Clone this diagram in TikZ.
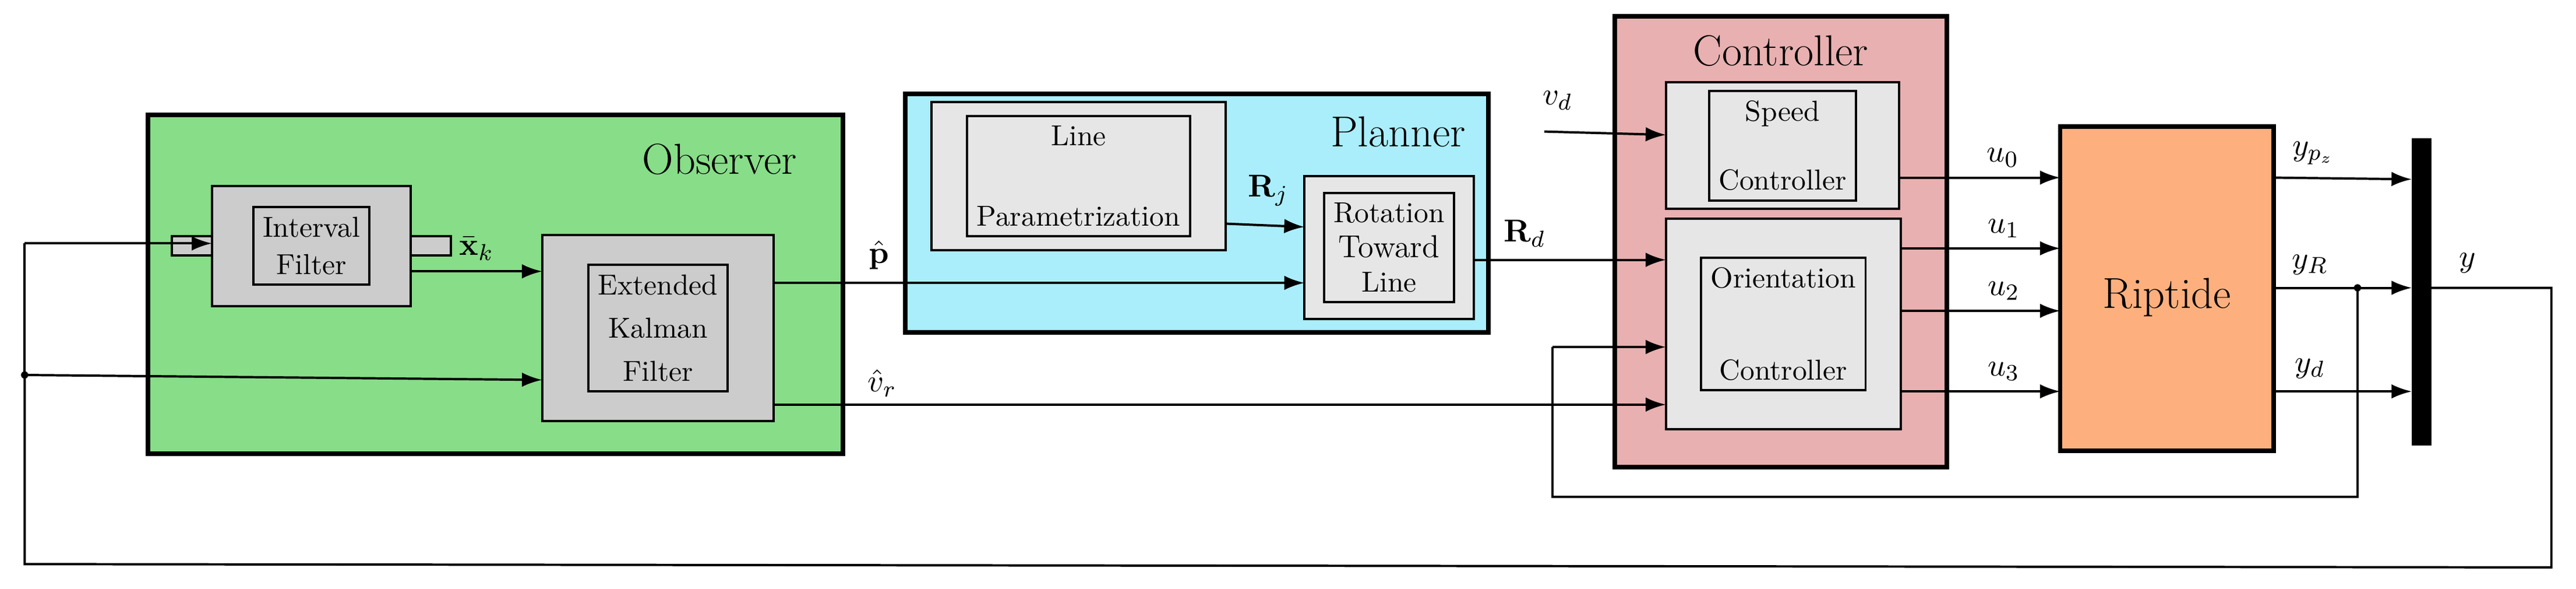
\documentclass[tikz,border=0pt]{standalone}
\usepackage{amsmath,bm}
\usetikzlibrary{arrows.meta}
\definecolor{obs}{HTML}{88DD88}
\definecolor{pla}{HTML}{AAEEFC}
\definecolor{con}{HTML}{E8B0B0}
\definecolor{rip}{HTML}{FDB07E}
\definecolor{g1}{HTML}{CCCCCC}
\definecolor{g2}{HTML}{E6E6E6}
\begin{document}
\begin{tikzpicture}[x=0.02cm,y=-0.02cm,
 grp/.style={draw,line width=1.6pt},
 blk/.style={draw,line width=0.8pt,align=center,font=\fontsize{10}{15}\selectfont},
 ar/.style={-{Latex[length=7pt,width=5pt]},line width=0.8pt},
 ln/.style={line width=0.8pt},
 lab/.style={font=\fontsize{11}{13}\selectfont},
 ttl/.style={font=\fontsize{15}{17}\selectfont}]
\useasboundingbox (0,0) rectangle (1568,358);
\fill[obs,draw=black,line width=1.6pt] (90,70) rectangle (513,276);
\node[ttl] (tobs) at (438,97) {Observer};
\fill[pla,draw=black,line width=1.6pt] (551,57) rectangle (906,202);
\node[ttl] (tpla) at (851,80) {Planner};
\fill[con,draw=black,line width=1.6pt] (983,10) rectangle (1185,284);
\node[ttl] (tcon) at (1084,31) {Controller};
\node[blk,fill=g1,minimum width=121\pgflinewidth] (if) at (189.5,149.5) {};
\path[blk,fill=g1,draw] (129,113) rectangle (250,186);
\node[blk] (ift) at (189.5,149.5) {Interval\\[-2pt]Filter};
\path[blk,fill=g1,draw] (330,143) rectangle (471,256);
\node[blk] (ekf) at (400.5,199.5) {Extended\\Kalman\\Filter};
\path[blk,fill=g2,draw] (567,62) rectangle (746,152);
\node[blk,font=\fontsize{10}{20}\selectfont] (lp) at (656.5,107) {Line\\[8pt]Parametrization};
\path[blk,fill=g2,draw] (794,107) rectangle (897,194);
\node[blk,font=\fontsize{10}{12}\selectfont] (rt) at (845.5,150.5) {Rotation\\{\fontsize{11}{13}\selectfont Toward}\\Line};
\path[blk,fill=g2,draw] (1014,50) rectangle (1156,127);
\node[blk,font=\fontsize{10}{20}\selectfont] (sc) at (1085,88.5) {Speed\\[4pt]Controller};
\path[blk,fill=g2,draw] (1014,133) rectangle (1157,261);
\node[blk,font=\fontsize{10}{20}\selectfont] (oc) at (1085.5,197) {Orientation\\[12pt]Controller};
\path[fill=rip,draw,line width=1.6pt] (1254,77) rectangle (1384,274);
\node[font=\fontsize{15}{17}\selectfont] (rip) at (1319,181) {Riptide};
\fill (1468,84) rectangle (1480,271);
% coordinates
\coordinate (dot) at (15,228);
\fill (dot) circle (2.2);
\coordinate (dot2) at (1435,175);
\fill (dot2) circle (2.2);
\draw[ln] (dot) -- (15,148);
\draw[ar] (15,148) -- (129,148);
\draw[ar] (dot) -- (330,231);
\draw[ln] (dot) -- (15,343) -- (1553,345) -- (1553,175) -- (1480,175);
\draw[ar] (250,165) -- node[above,lab]{$\bar{\mathbf{x}}_k$} (330,165);
\draw[ar] (471,172) -- (794,172);
\node[lab] (p) at (535,155) {$\hat{\mathbf{p}}$};
\draw[ar] (471,246) -- (1014,246);
\node[lab] (v) at (537,233) {$\hat{v}_r$};
\draw[ar] (746,136) -- (794,138);
\node[lab] (rj) at (772,116) {$\mathbf{R}_j$};
\draw[ar] (897,158) -- (1014,158);
\node[lab] (rd) at (928,142) {$\mathbf{R}_d$};
\draw[ar] (940,80) -- (1014,82);
\node[lab] (vd) at (948,61) {$v_d$};
\draw[ar] (1156,108) -- node[above,lab,xshift=8]{$u_0$} (1254,108);
\draw[ar] (1157,151) -- node[above,lab,xshift=8]{$u_1$} (1254,151);
\draw[ar] (1157,189) -- node[above,lab,xshift=8]{$u_2$} (1254,189);
\draw[ar] (1157,238) -- node[above,lab,xshift=8]{$u_3$} (1254,238);
\draw[ar] (1384,108) -- (1468,109);
\node[lab] (ypz) at (1408,93) {$y_{p_z}$};
\draw[ar] (1384,175) -- (1468,175);
\node[lab] (yr) at (1406,161) {$y_R$};
\draw[ar] (1384,238) -- (1468,238);
\node[lab] (yd) at (1406,224) {$y_d$};
\node[lab] (y) at (1502,160) {$y$};
\draw[ln] (dot2) -- (1435,302) -- (945,302) -- (945,211);
\draw[ar] (945,211) -- (1014,211);
\end{tikzpicture}
\end{document}
